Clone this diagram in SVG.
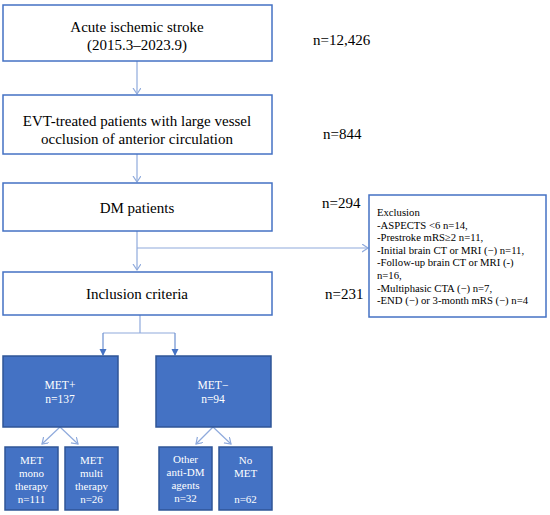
<svg xmlns="http://www.w3.org/2000/svg" width="550" height="515" viewBox="0 0 550 515" font-family="'Liberation Serif', 'Times New Roman', serif">
<style>
text{font-family:'Liberation Serif','Times New Roman',serif;fill:#000}
.big{font-size:15px}
.ex{font-size:10.7px}
.w{fill:#fff;font-size:11.5px}
.ws{fill:#fff;font-size:11px}
.box{fill:#fff;stroke:#4472C4;stroke-width:1.5}
.bbox{fill:#4472C4;stroke:#2F5597;stroke-width:1.5}
.con{fill:none;stroke:#8FAADC;stroke-width:1.2}
.con2{fill:none;stroke:#6C8FD0;stroke-width:1.2}
</style>
<defs>
<marker id="open" markerWidth="10" markerHeight="10" refX="6" refY="4" orient="auto" markerUnits="userSpaceOnUse">
<path d="M0,0 L6,4 L0,8" fill="none" stroke="#8FAADC" stroke-width="1.2"/>
</marker>
<marker id="fill" markerWidth="10" markerHeight="10" refX="6" refY="3.5" orient="auto" markerUnits="userSpaceOnUse">
<path d="M0,0 L7,3.5 L0,7 Z" fill="#4472C4"/>
</marker>
</defs>
<g id="connectors">
<line class="con" x1="137" y1="61" x2="137" y2="94" marker-end="url(#open)"/>
<line class="con" x1="137" y1="154" x2="137" y2="182" marker-end="url(#open)"/>
<line class="con" x1="137" y1="231" x2="137" y2="270" marker-end="url(#open)"/>
<line class="con" x1="137" y1="248" x2="368" y2="248" marker-end="url(#open)"/>
<path class="con" d="M140,315 V333 M103,333 H175"/>
<line class="con2" x1="103" y1="333" x2="103" y2="355" marker-end="url(#fill)"/>
<line class="con2" x1="175" y1="333" x2="175" y2="355" marker-end="url(#fill)"/>
<line class="con" x1="60" y1="427" x2="42" y2="444" marker-end="url(#open)"/>
<line class="con" x1="60" y1="427" x2="78" y2="444" marker-end="url(#open)"/>
<line class="con" x1="213" y1="427" x2="196" y2="444" marker-end="url(#open)"/>
<line class="con" x1="213" y1="427" x2="231" y2="444" marker-end="url(#open)"/>
</g>
<g id="n1">
<rect class="box" x="3" y="5" width="269" height="56"/>
<text class="big" x="137" y="32" text-anchor="middle">Acute ischemic stroke</text>
<text class="big" x="137" y="50" text-anchor="middle">(2015.3–2023.9)</text>
</g>
<text class="big" x="313" y="45">n=12,426</text>
<g id="n2">
<rect class="box" x="3" y="95" width="269" height="59"/>
<text class="big" x="137" y="126" text-anchor="middle">EVT-treated patients with large vessel</text>
<text class="big" x="137" y="144" text-anchor="middle">occlusion of anterior circulation</text>
</g>
<text class="big" x="323" y="139">n=844</text>
<g id="n3">
<rect class="box" x="3" y="183" width="269" height="48"/>
<text class="big" x="137" y="213" text-anchor="middle">DM patients</text>
</g>
<text class="big" x="322" y="208">n=294</text>
<g id="n4">
<rect class="box" x="3" y="272" width="269" height="43"/>
<text class="big" x="137" y="299" text-anchor="middle">Inclusion criteria</text>
</g>
<text class="big" x="325" y="299">n=231</text>
<g id="exclusion">
<rect class="box" x="369" y="195" width="177" height="122"/>
<text class="ex" x="377" y="216">Exclusion</text>
<text class="ex" x="377" y="228.6">-ASPECTS &lt;6  n=14,</text>
<text class="ex" x="377" y="241.2">-Prestroke mRS≥2 n=11,</text>
<text class="ex" x="377" y="253.8">-Initial brain CT or MRI (−) n=11,</text>
<text class="ex" x="377" y="266.4">-Follow-up brain CT or MRI (-)</text>
<text class="ex" x="377" y="279">n=16,</text>
<text class="ex" x="377" y="291.6">-Multiphasic CTA (−) n=7,</text>
<text class="ex" x="377" y="304.2">-END (−) or 3-month mRS (−) n=4</text>
</g>
<g id="metplus">
<rect class="bbox" x="3" y="356" width="115" height="71"/>
<text class="w" x="60" y="389" text-anchor="middle">MET+</text>
<text class="w" x="60" y="403" text-anchor="middle">n=137</text>
</g>
<g id="metminus">
<rect class="bbox" x="156" y="356" width="115" height="71"/>
<text class="w" x="213" y="389" text-anchor="middle">MET−</text>
<text class="w" x="213" y="403" text-anchor="middle">n=94</text>
</g>
<g id="mono">
<rect class="bbox" x="5" y="447" width="53" height="63"/>
<text class="ws" x="31.5" y="464" text-anchor="middle">MET</text>
<text class="ws" x="31.5" y="477" text-anchor="middle">mono</text>
<text class="ws" x="31.5" y="490" text-anchor="middle">therapy</text>
<text class="ws" x="31.5" y="503" text-anchor="middle">n=111</text>
</g>
<g id="multi">
<rect class="bbox" x="65" y="447" width="53" height="63"/>
<text class="ws" x="91.5" y="464" text-anchor="middle">MET</text>
<text class="ws" x="91.5" y="477" text-anchor="middle">multi</text>
<text class="ws" x="91.5" y="490" text-anchor="middle">therapy</text>
<text class="ws" x="91.5" y="503" text-anchor="middle">n=26</text>
</g>
<g id="other">
<rect class="bbox" x="159" y="447" width="53" height="63"/>
<text class="ws" x="185.5" y="463" text-anchor="middle">Other</text>
<text class="ws" x="185.5" y="476" text-anchor="middle">anti-DM</text>
<text class="ws" x="185.5" y="489" text-anchor="middle">agents</text>
<text class="ws" x="185.5" y="502" text-anchor="middle">n=32</text>
</g>
<g id="nomet">
<rect class="bbox" x="219" y="447" width="53" height="63"/>
<text class="ws" x="245.5" y="464" text-anchor="middle">No</text>
<text class="ws" x="245.5" y="477" text-anchor="middle">MET</text>
<text class="ws" x="245.5" y="503" text-anchor="middle">n=62</text>
</g>
</svg>
